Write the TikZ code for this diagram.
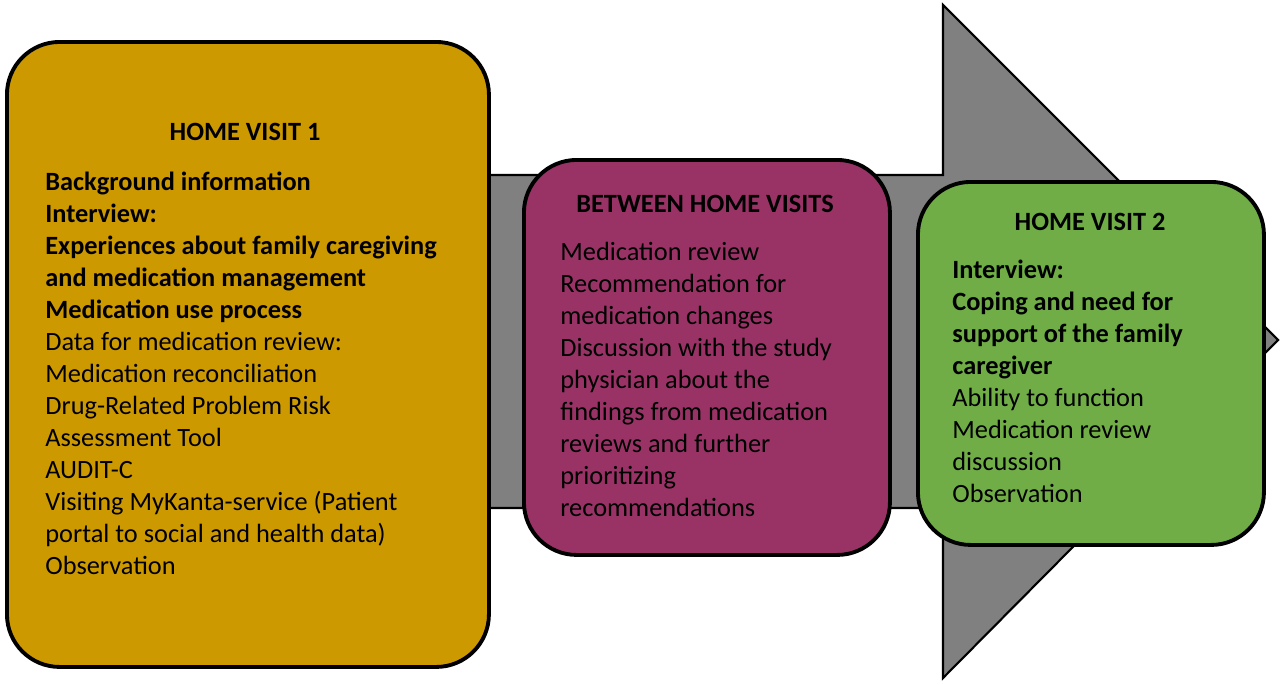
\documentclass[tikz,border=0pt]{standalone}
\usepackage{fontspec}
\setmainfont{Carlito}
\usetikzlibrary{positioning}
\definecolor{goldbox}{HTML}{CC9900}
\definecolor{plumbox}{HTML}{993366}
\definecolor{greenbox}{HTML}{70AD47}
\definecolor{arrowgray}{HTML}{808080}
\tikzset{
  stage/.style={draw=black,line width=2.2pt,rounded corners=30pt},
  title/.style={font=\fontsize{15}{18.2}\selectfont\bfseries,anchor=base},
  body/.style={font=\fontsize{15}{18.2}\selectfont,align=left,anchor=north west,inner sep=0pt}
}
\begin{document}
\begin{tikzpicture}[x=0.02cm,y=-0.02cm]
        \useasboundingbox (0,0) rectangle (1280,684);
        % big arrow behind the boxes
        \draw[fill=arrowgray,line width=1.2pt] (470,175) -- (943,175) -- (943,5) -- (1278,340)
            -- (943,678) -- (943,508) -- (470,508) -- cycle;
        \node[stage,fill=goldbox,minimum width=482*0.02cm,minimum height=625*0.02cm,anchor=north west] (visit1) at (5,40) {};
        \node[stage,fill=plumbox,minimum width=366*0.02cm,minimum height=395*0.02cm,anchor=north west] (between) at (522,158) {};
        \node[stage,fill=greenbox,minimum width=346*0.02cm,minimum height=363*0.02cm,anchor=north west] (visit2) at (916,180) {};
        \node[title] (t1) at (245,140) {HOME VISIT 1};
        \node[title] (t2) at (705,212) {BETWEEN HOME VISITS};
        \node[title] (t3) at (1090,230) {HOME VISIT 2};
        \node[body] (b1) at (45,172) {\textbf{Background information}\\
            \textbf{Interview:}\\
            \textbf{Experiences about family caregiving}\\
            \textbf{and medication management}\\
            \textbf{Medication use process}\\
            Data for medication review:\\
            Medication reconciliation\\
            Drug-Related Problem Risk\\
            Assessment Tool\\
            AUDIT-C\\
            Visiting MyKanta-service (Patient\\
            portal to social and health data)\\
            Observation};
        \node[body] (b2) at (560,242) {Medication review\\
            Recommendation for\\
            medication changes\\
            Discussion with the study\\
            physician about the\\
            findings from medication\\
            reviews and further\\
            prioritizing\\
            recommendations};
        \node[body] (b3) at (952,260) {\textbf{Interview:}\\
            \textbf{Coping and need for}\\
            \textbf{support of the family}\\
            \textbf{caregiver}\\
            Ability to function\\
            Medication review\\
            discussion\\
            Observation};
\end{tikzpicture}
\end{document}
